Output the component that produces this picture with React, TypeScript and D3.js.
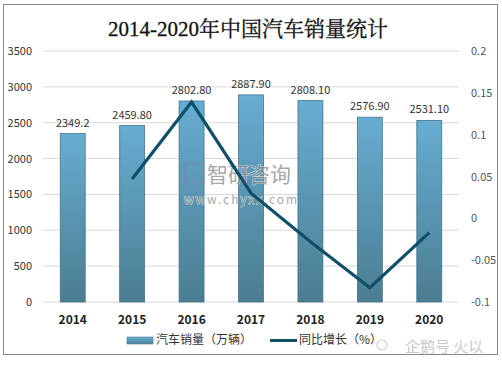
import React from 'react';
import * as d3 from 'd3';

const years = ['2014', '2015', '2016', '2017', '2018', '2019', '2020'];
const sales = [2349.2, 2459.8, 2802.8, 2887.9, 2808.1, 2576.9, 2531.1];
const salesLabels = ['2349.2', '2459.80', '2802.80', '2887.90', '2808.10', '2576.90', '2531.10'];
const growth = [null, 0.047, 0.139, 0.03, -0.028, -0.083, -0.017];
const leftTicks = [0, 500, 1000, 1500, 2000, 2500, 3000, 3500];
const rightTicks = [-0.1, -0.05, 0, 0.05, 0.1, 0.15, 0.2];

const W = 502;
const H = 369;
const font = '"Microsoft YaHei", "Noto Sans CJK SC", "Liberation Sans", sans-serif';

const App = () => {
  const x = d3.scaleBand().domain(years).range([43, 459]).paddingInner(0.58).paddingOuter(0.29);
  const yL = d3.scaleLinear().domain([0, 3500]).range([302, 51]);
  const yR = d3.scaleLinear().domain([-0.1, 0.2]).range([302, 51]);
  const cx = (d) => (x(d) as number) + x.bandwidth() / 2;

  const linePts = years.map((d, i) => ({ d, v: growth[i] })).filter((p) => p.v !== null);
  const line = d3
    .line<any>()
    .x((p) => cx(p.d))
    .y((p) => yR(p.v));

  return (
    <svg width={W} height={H} style={{ position: 'absolute', left: 0, top: 0 }}>
      <defs>
        <linearGradient id="barGrad" x1="0" y1="0" x2="0" y2="1">
          <stop offset="0%" stopColor="#67add2" />
          <stop offset="100%" stopColor="#4b7d91" />
        </linearGradient>
        <linearGradient id="legGrad" x1="0" y1="0" x2="0" y2="1">
          <stop offset="0%" stopColor="#6aaed2" />
          <stop offset="100%" stopColor="#4d8299" />
        </linearGradient>
      </defs>
      <rect x={0} y={0} width={W} height={H} fill="#fff" />
      <rect x={3.5} y={4.5} width={494} height={350} fill="#fff" stroke="#888" strokeWidth={1} />

      {/* title */}
      <text x={248} y={36} textAnchor="middle" fontFamily='"Liberation Serif", "Noto Serif CJK SC", "Noto Sans CJK SC", serif' fontSize={21} fill="#111" stroke="#111" strokeWidth={0.3}>
        2014-2020年中国汽车销量统计
      </text>

      {/* grid */}
      {leftTicks.map((t) => (
        <line key={t} x1={43} x2={459} y1={yL(t)} y2={yL(t)} stroke="#d9d9d9" strokeWidth={1} />
      ))}

      {/* left axis */}
      {leftTicks.map((t) => (
        <text key={'l' + t} x={32} y={yL(t) + 4} textAnchor="end" fontFamily={font} fontSize={11} fill="#333">
          {t}
        </text>
      ))}
      {/* right axis */}
      {rightTicks.map((t) => (
        <text key={'r' + t} x={471} y={yR(t) + 4} textAnchor="start" fontFamily={font} fontSize={11} fill="#555">
          {t}
        </text>
      ))}

      {/* bars */}
      {years.map((d, i) => (
        <g key={d}>
          <rect
            x={x(d)}
            y={yL(sales[i])}
            width={x.bandwidth()}
            height={yL(0) - yL(sales[i])}
            fill="url(#barGrad)"
            stroke="#44758a"
            strokeWidth={0.8}
          />
          <text x={cx(d)} y={yL(sales[i]) - 7} textAnchor="middle" fontFamily={font} fontSize={11} fill="#333">
            {salesLabels[i]}
          </text>
          <text x={cx(d)} y={324} textAnchor="middle" fontFamily={font} fontSize={12} fontWeight="bold" fill="#222">
            {d}
          </text>
        </g>
      ))}

      {/* watermark over the bars */}
      <g opacity={0.75}>
        <rect x={185} y={164} width={18} height={19} fill="none" stroke="#6d8fb7" strokeWidth={3} />
        <text x={207} y={182} fontFamily={font} fontSize={21} fill="#8a8a8a" stroke="#ffffff" strokeWidth={0.8} paintOrder="stroke">
          智研咨询
        </text>
        <text x={184} y={204} fontFamily={font} fontSize={12} fill="#8a8a8a" letterSpacing={1.9} stroke="#ffffff" strokeWidth={0.8} paintOrder="stroke">
          www.chyxx.com
        </text>
      </g>

      {/* growth line */}
      <path d={line(linePts) as string} fill="none" stroke="#0f5068" strokeWidth={3.2} strokeLinejoin="miter" />

      {/* legend */}
      <rect x={127} y={337} width={26} height={7} fill="url(#legGrad)" stroke="#4a7f95" strokeWidth={0.6} />
      <text x={156} y={344} fontFamily={font} fontSize={12} fill="#333">汽车销量（万辆）</text>
      <line x1={270} x2={297} y1={340.5} y2={340.5} stroke="#0f5068" strokeWidth={3} />
      <text x={299} y={344} fontFamily={font} fontSize={12} fill="#333">同比增长（%）</text>

      {/* corner mark */}
      <circle cx={382} cy={345} r={5} fill="none" stroke="#d0d0d0" strokeWidth={1.2} />
      <text x={405} y={352} fontFamily={font} fontSize={15} fill="#c8c8c8">企鹅号 火以</text>
    </svg>
  );
};

export default App;
